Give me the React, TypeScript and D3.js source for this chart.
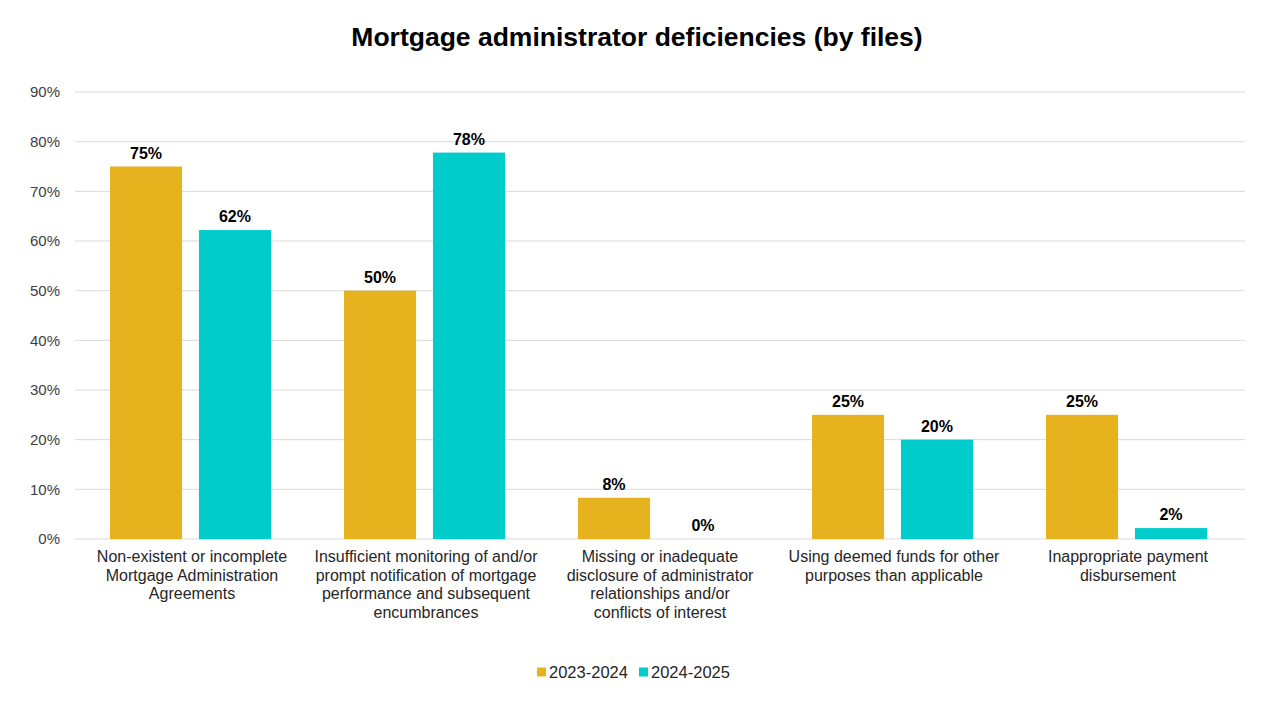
import React, { useEffect, useRef } from 'react';
import * as d3 from 'd3';

const categories = [
  ['Non-existent or incomplete', 'Mortgage Administration', 'Agreements'],
  ['Insufficient monitoring of and/or', 'prompt notification of mortgage', 'performance and subsequent', 'encumbrances'],
  ['Missing or inadequate', 'disclosure of administrator', 'relationships and/or', 'conflicts of interest'],
  ['Using deemed funds for other', 'purposes than applicable'],
  ['Inappropriate payment', 'disbursement'],
];
const seriesNames = ['2023-2024', '2024-2025'];
const values2023 = [75, 50, 8.3, 25, 25];
const values2024 = [62.2, 77.8, 0, 20, 2.2];
const yTicks = [0, 10, 20, 30, 40, 50, 60, 70, 80, 90];

const colors = ['#E6B31E', '#00CCCC'];
const FONT = '"Liberation Sans", Arial, sans-serif';

const App = () => {
  const ref = useRef<SVGSVGElement>(null);

  useEffect(() => {
    const width = 1280;
    const height = 720;
    const margin = { top: 92, right: 35, bottom: 181, left: 75 };
    const innerW = width - margin.left - margin.right;
    const innerH = height - margin.top - margin.bottom;

    const svg = d3.select(ref.current);
    svg.selectAll('*').remove();

    svg.append('rect').attr('width', width).attr('height', height).attr('fill', '#fff');

    // Title
    svg.append('text')
      .attr('x', 637)
      .attr('y', 46)
      .attr('text-anchor', 'middle')
      .style('font-family', FONT)
      .style('font-size', '26.5px')
      .style('font-weight', 'bold')
      .text('Mortgage administrator deficiencies (by files)');

    const g = svg.append('g').attr('transform', `translate(${margin.left},${margin.top})`);

    const x0 = d3.scaleBand<number>()
      .domain(categories.map((_, i) => i))
      .range([0, innerW])
      .paddingInner(0)
      .paddingOuter(0);

    // two bars per category, with a gap between them
    const x1 = d3.scaleBand<number>()
      .domain([0, 1])
      .range([35, x0.bandwidth() - 38])
      .paddingInner(0.19);

    const y = d3.scaleLinear().domain([0, 90]).range([innerH, 0]);

    // Gridlines
    g.selectAll('.grid')
      .data(yTicks)
      .enter()
      .append('line')
      .attr('x1', 0)
      .attr('x2', innerW)
      .attr('y1', d => y(d))
      .attr('y2', d => y(d))
      .attr('stroke', '#d9d9d9')
      .attr('stroke-width', 1);

    // Y tick labels
    g.selectAll('.ytick')
      .data(yTicks)
      .enter()
      .append('text')
      .attr('x', -15)
      .attr('y', d => y(d))
      .attr('dy', '0.35em')
      .attr('text-anchor', 'end')
      .style('font-family', FONT)
      .style('font-size', '15px')
      .attr('fill', '#404040')
      .text(d => `${d}%`);

    const seriesVals = [values2023, values2024];

    categories.forEach((lines, i) => {
      const cg = g.append('g').attr('transform', `translate(${x0(i)},0)`);
      seriesVals.forEach((vals, s) => {
        const v = vals[i];
        cg.append('rect')
          .attr('x', x1(s)!)
          .attr('y', y(v))
          .attr('width', x1.bandwidth())
          .attr('height', innerH - y(v))
          .attr('fill', colors[s]);
        cg.append('text')
          .attr('x', x1(s)! + x1.bandwidth() / 2)
          .attr('y', y(v) - 8)
          .attr('text-anchor', 'middle')
          .style('font-family', FONT)
          .style('font-size', '16px')
          .style('font-weight', 'bold')
          .attr('fill', '#000')
          .text(`${Math.round(v)}%`);
      });
      // Category label
      const t = cg.append('text')
        .attr('text-anchor', 'middle')
        .style('font-family', FONT)
        .style('font-size', '16px')
        .attr('fill', '#262626');
      lines.forEach((line, li) => {
        t.append('tspan')
          .attr('x', x0.bandwidth() / 2)
          .attr('y', innerH + 23 + li * 18.5)
          .text(line);
      });
    });

    // Legend
    const legend = svg.append('g').attr('transform', 'translate(537,672)');
    const offsets = [0, 102];
    seriesNames.forEach((name, i) => {
      legend.append('rect')
        .attr('x', offsets[i])
        .attr('y', -4.5)
        .attr('width', 9)
        .attr('height', 9)
        .attr('fill', colors[i]);
      legend.append('text')
        .attr('x', offsets[i] + 12)
        .attr('y', 0)
        .attr('dy', '0.35em')
        .style('font-family', FONT)
        .style('font-size', '16.5px')
        .attr('fill', '#262626')
        .text(name);
    });
  }, []);

  return <svg ref={ref} width={1280} height={720} style={{ position: 'absolute', left: 0, top: 0 }} />;
};

export default App;
